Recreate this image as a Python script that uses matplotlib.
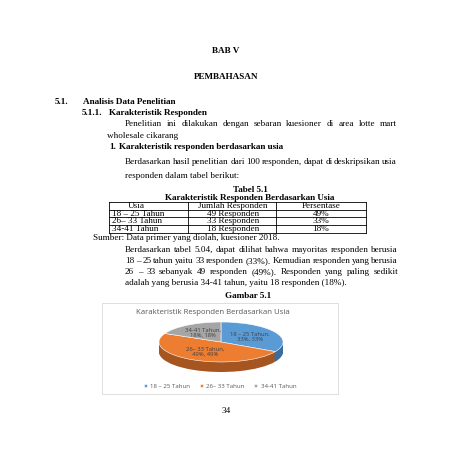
import matplotlib.pyplot as plt
from matplotlib.patches import Rectangle

# data
age_groups = ['18 – 25 Tahun', '26– 33 Tahun', '34-41 Tahun']
respondents = [49, 33, 18]
percent_labels = ['49%', '33%', '18%']
pie_labels = ['18 – 25 Tahun', '26– 33 Tahun', '34-41 Tahun']
pie_values = [33, 49, 18]
top_colors = ['#5B9BD5', '#ED7D31', '#A5A5A5']
side_colors = ['#3A6C9E', '#A65420', '#7A7A7A']

SERIF = 'Liberation Serif'
BODY = 6.6

fig = plt.figure(figsize=(4.53, 4.53), dpi=100)
page = fig.add_axes([0, 0, 1, 1])
page.set_xlim(0, 453)
page.set_ylim(453, 0)
page.axis('off')
fig.canvas.draw()
renderer = fig.canvas.get_renderer()


def txt(x, y, s, bold=False, ha='left', size=BODY):
    return page.text(x, y, s, ha=ha, va='center', fontsize=size, family=SERIF,
                     fontweight='bold' if bold else 'normal', color='black')


def justify(x0, x1, y, line):
    # spread words so the line fills x0..x1 like a justified paragraph
    words = line.split(' ')
    items = [txt(0, y, w) for w in words]
    widths = []
    for t in items:
        bb = t.get_window_extent(renderer)
        widths.append(bb.width * 453 / fig.bbox.width)
    gap = (x1 - x0 - sum(widths)) / max(len(words) - 1, 1)
    x = x0
    for t, w in zip(items, widths):
        t.set_x(x)
        x += w + gap


txt(226, 51, 'BAB V', bold=True, ha='center')
txt(226, 77, 'PEMBAHASAN', bold=True, ha='center')
txt(55, 102, '5.1.', bold=True)
txt(83, 102, 'Analisis Data Penelitian', bold=True)
txt(82, 113, '5.1.1.', bold=True)
txt(109, 113, 'Karakteristik Responden', bold=True)
justify(125, 397, 124, 'Penelitian ini dilakukan dengan sebaran kuesioner di area lotte mart')
txt(107, 136, 'wholesale cikarang')
txt(109, 147, '1.', bold=True)
txt(119, 147, 'Karakteristik responden berdasarkan usia', bold=True)
justify(125, 397, 162, 'Berdasarkan hasil penelitian dari 100 responden, dapat di deskripsikan usia')
txt(125, 176, 'responden dalam tabel berikut:')

# table
txt(250, 190, 'Tabel 5.1', bold=True, ha='center')
txt(250, 198, 'Karakteristik Responden Berdasarkan Usia', bold=True, ha='center')
row_y = [202, 210, 217, 225, 233]
col_x = [109, 188, 276, 366]
for y in row_y:
    page.plot([col_x[0], col_x[-1]], [y, y], color='black', lw=0.6)
for x in col_x:
    page.plot([x, x], [row_y[0], row_y[-1]], color='black', lw=0.6)
txt(136, 206, 'Usia', ha='center')
txt(233, 206, 'Jumlah Responden', ha='center')
txt(321, 206, 'Persentase', ha='center')
for i in range(3):
    yc = (row_y[i + 1] + row_y[i + 2]) / 2
    txt(112, yc, age_groups[i])
    txt(233, yc, f'{respondents[i]} Responden', ha='center')
    txt(321, yc, percent_labels[i], ha='center')
txt(93, 238, 'Sumber: Data primer yang diolah, kuesioner 2018.')

justify(125, 398, 250, 'Berdasarkan tabel 5.04, dapat dilihat bahwa mayoritas responden berusia')
justify(125, 398, 261, '18 – 25 tahun yaitu 33 responden (33%). Kemudian responden yang berusia')
justify(125, 398, 272, '26 – 33 sebanyak 49 responden (49%). Responden yang paling sedikit')
txt(125, 283, 'adalah yang berusia 34-41 tahun, yaitu 18 responden (18%).')
txt(248, 296, 'Gambar 5.1', bold=True, ha='center')
txt(226, 411, '34', ha='center')

# chart box
page.add_patch(Rectangle((102, 303), 236, 91, facecolor='white', edgecolor='#D9D9D9', lw=0.6))
page.text(213, 313, 'Karakteristik Responden Berdasarkan Usia', ha='center', va='center',
          fontsize=5.6, color='#595959', family='Open Sans')

# 3d-ish pie: top ellipse x 159..283, y 322..362, depth 10 px
depth = 0.5
pie_ax = fig.add_axes([159 / 453, 1 - 372 / 453, 124 / 453, 50 / 453])
steps = 12
for k in range(steps, 0, -1):
    pie_ax.pie(pie_values, colors=side_colors, startangle=90, counterclock=False,
               center=(0, -depth * k / steps), radius=1, frame=True,
               wedgeprops=dict(linewidth=0))
wedges, _, autotexts = pie_ax.pie(
    pie_values, colors=top_colors, startangle=90, counterclock=False,
    radius=1, frame=True, pctdistance=0.55,
    autopct=lambda p: '',
    wedgeprops=dict(linewidth=0.4, edgecolor='white'))
for t, lab, v in zip(autotexts, pie_labels, pie_values):
    t.set_text(f'{lab},\n{v}%, {v}%')
    t.set_fontsize(4.2)
    t.set_color('#404040')
    t.set_family('Open Sans')
    t.set_linespacing(1.0)
pie_ax.set_aspect('auto')
pie_ax.set_xlim(-1, 1)
pie_ax.set_ylim(-1 - depth, 1)
pie_ax.axis('off')

leg = fig.legend(wedges, pie_labels, loc='center', bbox_to_anchor=(220 / 453, 1 - 386 / 453),
                 ncol=3, frameon=False, handlelength=0.5, handleheight=0.5,
                 columnspacing=1.5, handletextpad=0.6, labelcolor='#595959',
                 prop={'family': 'Open Sans', 'size': 4.4})

fig.savefig('out.png', dpi=100)
